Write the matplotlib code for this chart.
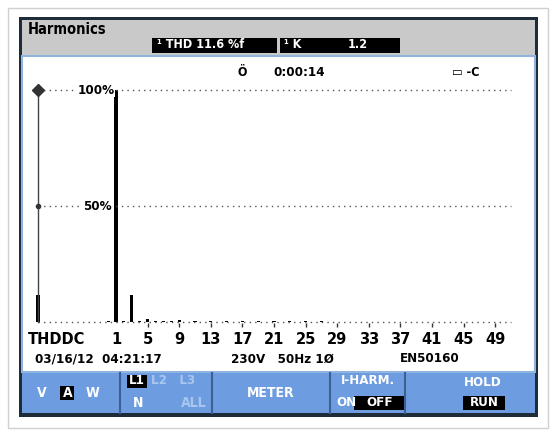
import matplotlib
matplotlib.use("Agg")
import matplotlib.pyplot as plt
from matplotlib.patches import Rectangle

# ---- data ----
thd_value = 11.6
dc_value = 0.3
harmonic_orders = list(range(1, 51))
harmonic_values = [100, 0.3, 11.6, 0.3, 1.2, 0.3, 0.6, 0.3, 1.0, 0.2, 0.5, 0.2, 0.4, 0.2, 0.3, 0.2,
                   0.5, 0.2, 0.4, 0.2, 0.5, 0.2, 0.3, 0.2, 0.3, 0.2, 0.3, 0.2, 0.2, 0.2, 0.2, 0.2,
                   0.2, 0.2, 0.2, 0.2, 0.2, 0.2, 0.2, 0.2, 0.2, 0.2, 0.2, 0.2, 0.2, 0.2, 0.2, 0.2, 0.2, 0.2]
tick_orders = [1, 5, 9, 13, 17, 21, 25, 29, 33, 37, 41, 45, 49]
tick_labels = [str(t) for t in tick_orders]

FONT = ['DejaVu Sans']
W, H = 556, 438
fig = plt.figure(figsize=(W/100, H/100), dpi=100)
bg = fig.add_axes([0, 0, 1, 1])
bg.set_xlim(0, W); bg.set_ylim(H, 0); bg.axis('off')

def R(x, y, w, h, **kw):
    bg.add_patch(Rectangle((x, y), w, h, **kw))
def T(x, y, s, size=10, color='black', ha='left', **kw):
    bg.text(x, y, s, fontsize=size, color=color, ha=ha, va='center', fontweight='bold',
            family=FONT, fontstretch='condensed', **kw)

R(8, 8, 540, 420, facecolor='white', edgecolor='#d0d0d0', lw=1)
R(19, 17, 519, 400, facecolor='#1e2c3a', edgecolor='none')
R(22, 20, 513, 35, facecolor='#c9c9c9', edgecolor='none')
R(22, 56, 513, 316, facecolor='white', edgecolor='#8fb4e0', lw=1.5)
R(22, 373, 513, 40, facecolor='#6d9de0', edgecolor='none')
for x in [120, 212, 330, 405]:
    bg.plot([x, x], [373, 413], color='#3d5f93', lw=1.5)

T(28, 30, 'Harmonics', 10.5)
R(152, 38, 125, 15, facecolor='black'); T(157, 45, '¹ THD 11.6 %f', 9, 'white')
R(280, 38, 120, 15, facecolor='black'); T(284, 45, '¹ K', 9, 'white'); T(348, 45, '1.2', 9, 'white')
T(237, 72, 'Ö', 9)
T(273, 72, '0:00:14', 9.5)
T(452, 72, '▭ -C', 9)

# bottom texts
T(35, 359, '03/16/12  04:21:17', 9.5)
T(231, 359, '230V   50Hz 1Ø', 9.5)
T(400, 359, 'EN50160', 9.5)
T(37, 393, 'V', 10, 'white'); R(60, 386, 14, 14, facecolor='black'); T(63, 393, 'A', 10, 'white'); T(86, 393, 'W', 10, 'white')
R(127, 375, 20, 13, facecolor='black'); T(129, 381, 'L1', 9.5, 'white')
T(151, 381, 'L2   L3', 9.5, '#a9c6ee'); T(133, 403, 'N', 10, 'white'); T(181, 403, 'ALL', 10, '#a9c6ee')
T(271, 393, 'METER', 10, 'white', ha='center')
T(368, 380, 'I-HARM.', 9.5, 'white', ha='center')
T(336, 403, 'ON', 9.5, 'white'); R(354, 396, 52, 14, facecolor='black'); T(380, 403, 'OFF', 9.5, 'white', ha='center')
T(483, 382, 'HOLD', 9.5, 'white', ha='center')
R(463, 396, 42, 14, facecolor='black'); T(484, 403, 'RUN', 9.5, 'white', ha='center')

# ---- data axes ----
px0, px1, py_top, py_bot = 30, 520, 80, 330
ax = fig.add_axes([px0/W, 1-py_bot/H, (px1-px0)/W, (py_bot-py_top)/H])
ax.set_xlim(1+(px0-116)/7.9, 1+(px1-116)/7.9)
ax.set_ylim((322-py_bot)/232*100, (322-py_top)/232*100)
ax.axis('off'); ax.patch.set_alpha(0)

thd_x = 1+(38-116)/7.9
dc_x = 0
for yv in [100, 50, 0]:
    ax.plot([thd_x, 51], [yv, yv], color='#555555', lw=1, ls=(0, (1, 3)))
ax.text(0.8, 100, '100%', fontsize=9.5, fontweight='bold', family=FONT, fontstretch='condensed', ha='right', va='center', bbox=dict(facecolor='white', edgecolor='none', pad=0.5))
ax.text(0.4, 50, '50%', fontsize=9.5, fontweight='bold', family=FONT, fontstretch='condensed', ha='right', va='center', bbox=dict(facecolor='white', edgecolor='none', pad=0.5))
ax.plot([thd_x, thd_x], [0, 100], color='#444444', lw=1)
ax.plot([thd_x], [100], marker='D', color='#333333', ms=6)
ax.plot([thd_x], [50], marker='o', color='#333333', ms=3)
ax.bar([thd_x], [thd_value], width=0.4, color='black')
ax.bar([dc_x], [dc_value], width=0.4, color='black')
ax.bar(harmonic_orders, harmonic_values, width=[0.5 if h == 1 else 0.4 for h in harmonic_orders], color='black')
ax.plot(tick_orders[1:], [-1.2]*(len(tick_orders)-1), ls='none', marker='|', color='#333', ms=3)

for t, lab in zip(tick_orders, tick_labels):
    ax.text(t, -7.5, lab, fontsize=10.5, fontweight='bold', family=FONT, ha='center', va='center', clip_on=False)
ax.text(1+(57-116)/7.9, -7.5, 'THDDC', fontsize=10.5, fontweight='bold', family=FONT, ha='center', va='center', clip_on=False)

fig.savefig('out.png', dpi=100)
